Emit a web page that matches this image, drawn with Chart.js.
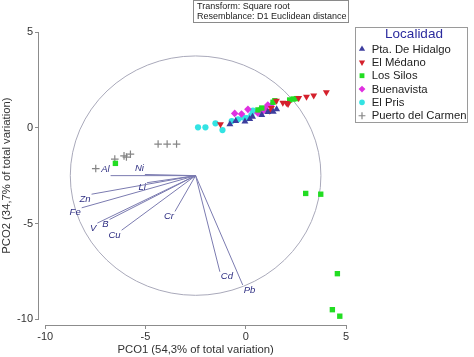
<!DOCTYPE html>
<html><head><meta charset="utf-8">
<script src="https://cdn.jsdelivr.net/npm/chart.js@4/dist/chart.umd.min.js"></script>
<style>html,body{margin:0;padding:0;background:#fff;}</style>
</head><body>
<canvas id="c" width="474" height="357"></canvas>
<script>
// ---------- data ----------
const xTicks = [-10, -5, 0, 5];
const yTicks = [-10, -5, 0, 5];
const xTitle = 'PCO1 (54,3% of total variation)';
const yTitle = 'PCO2 (34,7% of total variation)';
const infoLines = ['Transform: Square root', 'Resemblance: D1 Euclidean distance'];
const legendTitle = 'Localidad';

const groupNames = ['Pta. De Hidalgo', 'El Médano', 'Los Silos', 'Buenavista', 'El Pris', 'Puerto del Carmen'];

const hidalgoX = [-0.79, -0.5, -0.04, 0.2, 0.34, 0.8, 1.1, 1.37, 1.54];
const hidalgoY = [0.18, 0.35, 0.32, 0.46, 0.58, 0.66, 0.82, 0.84, 0.97];
const medanoX = [4.02, 3.39, 3.03, 2.64, 2.03, 1.85, 1.53, 2.11, 1.28, 1.2, -1.26];
const medanoY = [1.85, 1.68, 1.62, 1.55, 1.29, 1.31, 1.41, 1.24, 1.03, 0.89, 0.18];
const silosX = [2.53, 2.36, 2.19, 1.45, 1.36, 0.61, 0.8, -6.5, 2.99, 3.74, 4.57, 4.32, 4.69];
const silosY = [1.52, 1.5, 1.45, 1.41, 1.33, 0.93, 1.03, -1.86, -3.43, -3.47, -7.62, -9.5, -9.84];
const buenavistaX = [-0.55, -0.21, 0.11, 0.95, 0.7, 0.6, 1.1, 0.85, 1.25];
const buenavistaY = [0.75, 0.72, 0.96, 0.98, 0.93, 0.77, 1.19, 0.87, 1.14];
const prisX = [-2.38, -2.01, -1.51, -1.16, -0.38, -0.13, 0.28, 0.36, 0.05, -0.7];
const prisY = [0.02, 0.02, 0.23, -0.12, 0.44, 0.54, 0.66, 0.89, 0.5, 0.35];
const carmenX = [-4.37, -3.92, -3.45, -6.07, -5.75, -5.95, -6.53, -7.48];
const carmenY = [-0.85, -0.85, -0.85, -1.47, -1.38, -1.53, -1.64, -2.13];

// vector overlay (origin, end points, circle)
const vectorNames = ['Al', 'Ni', 'Zn', 'Li', 'Fe', 'V', 'B', 'Cu', 'Cr', 'Cd', 'Pb'];
const vectorX = [-6.74, -5.03, -7.69, -4.93, -8.18, -7.40, -6.79, -6.19, -3.53, -1.29, -0.15];
const vectorY = [-2.50, -2.44, -3.47, -2.87, -4.18, -4.98, -4.79, -5.35, -4.37, -7.52, -8.21];
const vectorOrigin = [-2.5, -2.5];
const circleRadius = 6.25;

// ---------- styling ----------
const FONT = '"Liberation Sans", Arial, Helvetica, sans-serif';
const groupStyles = [
  {color: '#3d3d9e', style: 'triangle', rot: 0, r: 4, bw: 0},
  {color: '#d4202c', style: 'triangle', rot: 180, r: 4, bw: 0},
  {color: '#22dd22', style: 'rect', rot: 0, r: 3.8, bw: 0},
  {color: '#e030e0', style: 'rectRot', rot: 0, r: 3.8, bw: 0},
  {color: '#33e3e3', style: 'circle', rot: 0, r: 3.1, bw: 0},
  {color: '#858585', style: 'cross', rot: 0, r: 3.8, bw: 1.2}
];
const groupX = [hidalgoX, medanoX, silosX, buenavistaX, prisX, carmenX];
const groupY = [hidalgoY, medanoY, silosY, buenavistaY, prisY, carmenY];

const datasets = [];
groupNames.forEach((name, i) => {
  const s = groupStyles[i];
  datasets.push({
    label: name,
    data: groupX[i].map((v, j) => ({x: v, y: groupY[i][j]})),
    pointStyle: s.style, rotation: s.rot, pointRadius: s.r,
    backgroundColor: s.color, borderColor: s.color, borderWidth: s.bw,
    showLine: false, order: 0
  });
});
vectorNames.forEach((n, i) => {
  datasets.push({
    label: 'vec_' + n,
    data: [{x: vectorOrigin[0], y: vectorOrigin[1]}, {x: vectorX[i], y: vectorY[i]}],
    showLine: true, pointRadius: 0, borderColor: '#7b7bb0', borderWidth: 1,
    order: 2
  });
});

const overlayPlugin = {
  id: 'overlay',
  beforeDatasetsDraw(chart) {
    const ctx = chart.ctx, xs = chart.scales.x, ys = chart.scales.y;
    const cx = xs.getPixelForValue(vectorOrigin[0]);
    const cy = ys.getPixelForValue(vectorOrigin[1]);
    const rx = xs.getPixelForValue(vectorOrigin[0] + circleRadius) - cx;
    const ry = cy - ys.getPixelForValue(vectorOrigin[1] + circleRadius);
    ctx.save();
    ctx.strokeStyle = '#a9a9ba';
    ctx.lineWidth = 1;
    ctx.beginPath();
    ctx.ellipse(cx, cy, rx, ry, 0, 0, Math.PI * 2);
    ctx.stroke();
    ctx.restore();
  },
  afterDatasetsDraw(chart) {
    const ctx = chart.ctx, xs = chart.scales.x, ys = chart.scales.y;
    const ox = xs.getPixelForValue(vectorOrigin[0]);
    const oy = ys.getPixelForValue(vectorOrigin[1]);
    ctx.save();
    ctx.font = 'italic 9.5px ' + FONT;
    ctx.fillStyle = '#2e2e82';
    ctx.textBaseline = 'middle';
    vectorNames.forEach((n, i) => {
      const ex = xs.getPixelForValue(vectorX[i]);
      const ey = ys.getPixelForValue(vectorY[i]);
      const dx = ex - ox, dy = ey - oy;
      let tx, ty;
      if (dx < 0) { ctx.textAlign = 'right'; tx = ex - 1; }
      else { ctx.textAlign = 'left'; tx = ex + 1; }
      if (Math.abs(dy) < Math.abs(dx) * 0.1) ty = ey - 6; else ty = ey + 5;
      ctx.fillText(n, tx, ty);
    });
    ctx.restore();
  },
  afterDraw(chart) {
    const ctx = chart.ctx, xs = chart.scales.x, ys = chart.scales.y, ca = chart.chartArea;
    ctx.save();
    // axis lines (span of ticks only)
    ctx.strokeStyle = '#8c8c8c';
    ctx.lineWidth = 1;
    const xb = Math.round(ca.bottom) + 0.5;
    const yl = Math.round(ca.left) - 0.5;
    ctx.beginPath();
    ctx.moveTo(xs.getPixelForValue(xTicks[0]), xb);
    ctx.lineTo(xs.getPixelForValue(xTicks[xTicks.length - 1]), xb);
    ctx.moveTo(yl, ys.getPixelForValue(yTicks[0]));
    ctx.lineTo(yl, ys.getPixelForValue(yTicks[yTicks.length - 1]));
    ctx.stroke();
    // axis titles
    ctx.fillStyle = '#333';
    ctx.font = '11.3px ' + FONT;
    ctx.textAlign = 'center';
    ctx.textBaseline = 'middle';
    const xmid = (xs.getPixelForValue(xTicks[0]) + xs.getPixelForValue(xTicks[xTicks.length - 1])) / 2;
    ctx.fillText(xTitle, xmid, 349.5);
    const ymid = (ys.getPixelForValue(yTicks[0]) + ys.getPixelForValue(yTicks[yTicks.length - 1])) / 2;
    ctx.save();
    ctx.translate(7, ymid);
    ctx.rotate(-Math.PI / 2);
    ctx.fillText(yTitle, 0, 0);
    ctx.restore();
    // info box
    ctx.fillStyle = '#fff';
    ctx.fillRect(193.5, 0.5, 155, 22);
    ctx.strokeStyle = '#8a8a8a';
    ctx.strokeRect(193.5, 0.5, 155, 22);
    ctx.fillStyle = '#222';
    ctx.font = '9px ' + FONT;
    ctx.textAlign = 'left';
    ctx.fillText(infoLines[0], 197, 6.5);
    ctx.fillText(infoLines[1], 197, 16.5);
    // legend box
    ctx.fillStyle = '#fff';
    ctx.fillRect(355.5, 27.5, 112, 95);
    ctx.strokeStyle = '#9a9a9a';
    ctx.strokeRect(355.5, 27.5, 112, 95);
    ctx.fillStyle = '#2b2b9e';
    ctx.font = '13.5px ' + FONT;
    ctx.textAlign = 'center';
    ctx.fillText(legendTitle, 414, 34);
    ctx.font = '11.3px ' + FONT;
    ctx.textAlign = 'left';
    groupNames.forEach((name, i) => {
      const s = groupStyles[i];
      const yy = 49 + i * 13.35;
      ctx.fillStyle = s.color;
      ctx.strokeStyle = s.color;
      ctx.lineWidth = s.bw || 1;
      Chart.helpers.drawPoint(ctx, {pointStyle: s.style, radius: s.r * 0.9, rotation: s.rot, borderWidth: s.bw}, 362, yy);
      ctx.fillStyle = '#222';
      ctx.fillText(name, 371.7, yy + 0.5);
    });
    ctx.restore();
  }
};

new Chart(document.getElementById('c'), {
  type: 'scatter',
  data: {datasets},
  options: {
    responsive: false,
    animation: false,
    events: [],
    layout: {padding: {top: 32, right: 128, left: 0, bottom: 0}},
    plugins: {legend: {display: false}, tooltip: {enabled: false}},
    scales: {
      x: {
        type: 'linear', min: -10.31, max: 5,
        afterBuildTicks: s => { s.ticks = xTicks.map(v => ({value: v})); },
        afterFit: s => { s.height = 32; },
        grid: {display: true, drawOnChartArea: false, drawTicks: true, tickLength: 4, color: '#8c8c8c'},
        border: {display: false},
        ticks: {color: '#333', font: {family: FONT, size: 11}, padding: 1, maxRotation: 0, autoSkip: false}
      },
      y: {
        type: 'linear', min: -10.3, max: 5,
        afterBuildTicks: s => { s.ticks = yTicks.map(v => ({value: v})); },
        afterFit: s => { s.width = 39; },
        grid: {display: true, drawOnChartArea: false, drawTicks: true, tickLength: 4, color: '#8c8c8c'},
        border: {display: false},
        ticks: {color: '#333', font: {family: FONT, size: 11}, padding: 2, autoSkip: false}
      }
    }
  },
  plugins: [overlayPlugin]
});
</script>
</body></html>
